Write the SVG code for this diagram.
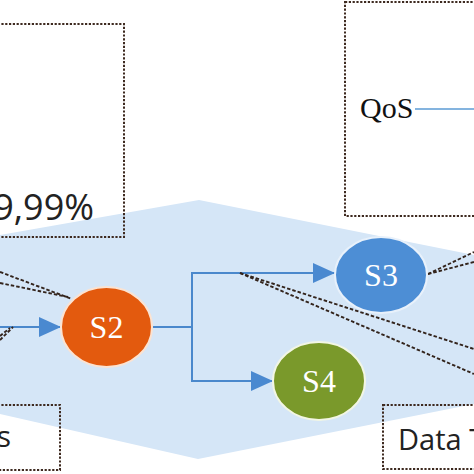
<svg xmlns="http://www.w3.org/2000/svg" width="474" height="474" viewBox="0 0 474 474">
<defs>
<style>
.box{fill:none;stroke:#3e2a20;stroke-width:2;stroke-dasharray:2.2 1.6}
.dash{fill:none;stroke:#33241c;stroke-width:1.9;stroke-dasharray:3.5 2}
.conn{fill:none;stroke:#4a88cc;stroke-width:2}
.lbl{font-family:"Liberation Serif","Times New Roman",serif;font-size:32px;fill:#ffffff;text-anchor:middle}
.txt{font-family:"Open Sans","DejaVu Sans",sans-serif;font-size:30px;fill:#222222}
.big{font-size:36px}
.qos{font-family:"Liberation Serif","Times New Roman",serif;font-size:30px;fill:#111111}
</style>
<marker id="arr" viewBox="0 0 22 20" refX="22" refY="10" markerWidth="22" markerHeight="20" markerUnits="userSpaceOnUse" orient="auto">
<path d="M0,0 L22,10 L0,20 Z" fill="#4a89d0"/>
</marker>
</defs>
<rect width="474" height="474" fill="#ffffff"/>
<polygon points="0,235 199,200 474,255 474,404 198,459 0,414" fill="#d5e6f7"/>

<g id="box-availability">
<rect class="box" x="-10" y="24" width="134" height="213"/>
<text class="txt big" x="94" y="220" text-anchor="end">99,99%</text>
</g>
<g id="box-qos">
<rect class="box" x="345" y="2" width="140" height="214"/>
<text class="qos" x="360" y="118">QoS</text>
<line x1="415" y1="109" x2="474" y2="109" stroke="#5b9bd5" stroke-width="1.6"/>
</g>
<g id="box-left-bottom">
<rect class="box" x="-10" y="405" width="70" height="65"/>
<text class="txt" x="11" y="447" text-anchor="end">s</text>
</g>
<g id="box-data">
<rect class="box" x="383" y="405" width="100" height="64"/>
<text class="txt" x="398" y="450" style="font-size:29px">Data T</text>
</g>

<g id="connectors">
<line class="conn" x1="0" y1="327" x2="61" y2="327" marker-end="url(#arr)"/>
<polyline class="conn" points="152,327 192,327"/>
<line class="conn" x1="192" y1="272" x2="192" y2="382"/>
<line class="conn" x1="191" y1="273" x2="335" y2="273" marker-end="url(#arr)"/>
<line class="conn" x1="191" y1="381" x2="273" y2="381" marker-end="url(#arr)"/>
<line class="dash" x1="0" y1="272" x2="72" y2="299"/>
<line class="dash" x1="0" y1="283" x2="68" y2="297"/>
<line class="dash" x1="0" y1="340" x2="13" y2="327"/>
<line class="dash" x1="0" y1="336" x2="10" y2="328"/>
<line class="dash" x1="428" y1="274" x2="474" y2="252"/>
<line class="dash" x1="428" y1="274" x2="474" y2="262"/>
<line class="dash" x1="240" y1="273" x2="474" y2="349"/>
<line class="dash" x1="240" y1="273" x2="474" y2="374"/>
</g>

<g id="S2">
<ellipse cx="106.5" cy="327" rx="45.5" ry="40" fill="#e35a0e" stroke="#fbe3d2" stroke-width="2"/>
<text class="lbl" x="106.5" y="338">S2</text>
</g>
<g id="S3">
<ellipse cx="381" cy="275" rx="46" ry="38" fill="#4d8ed5" stroke="#e8f1fb" stroke-width="2"/>
<text class="lbl" x="381" y="286">S3</text>
</g>
<g id="S4">
<ellipse cx="319" cy="381" rx="46" ry="39" fill="#7a992b" stroke="#f2f6e4" stroke-width="2"/>
<text class="lbl" x="319" y="392">S4</text>
</g>
</svg>
